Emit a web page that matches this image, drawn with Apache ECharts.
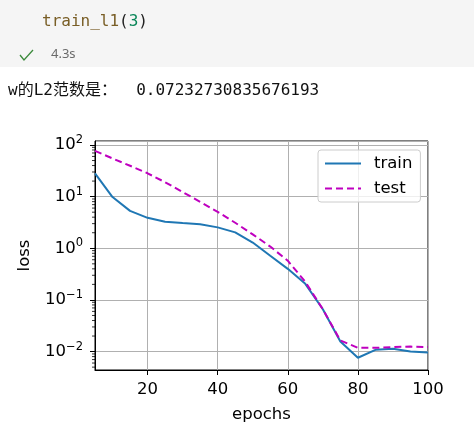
<!DOCTYPE html>
<html>
<head>
<meta charset="utf-8">
<script src="https://cdn.jsdelivr.net/npm/echarts@6/dist/echarts.min.js"></script>
<style>
html,body{margin:0;padding:0;background:#fff;}
#c{width:474px;height:428px;}
</style>
</head>
<body>
<div id="c"></div>
<script>
// ---- data ----
const epochs = [5,10,15,20,25,30,35,40,45,50,55,60,65,70,75,80,85,90,95,100];
const trainLoss = [28.3,9.8,5.3,3.89,3.26,3.07,2.93,2.54,2.03,1.29,0.715,0.40,0.205,0.066,0.0157,0.0076,0.0108,0.0113,0.0100,0.0096];
const testLoss = [76.8,54.8,39.6,28.3,19.0,12.3,7.9,5.07,3.12,1.86,1.08,0.574,0.224,0.066,0.0164,0.0118,0.0118,0.0122,0.0125,0.0122];
const minorTicks = [0.005,0.006,0.007,0.008,0.009,0.02,0.03,0.04,0.05,0.06,0.07,0.08,0.09,
  0.2,0.3,0.4,0.5,0.6,0.7,0.8,0.9,2,3,4,5,6,7,8,9,20,30,40,50,60,70,80,90];
const codeLine = 'train_l1';
const codeArg = '3';
const runTime = '4.3s';
const outputText = 'w的L2范数是：\u00a0\u00a00.07232730835676193';
const xTitle = 'epochs';
const yTitle = 'loss';
const seriesNames = ['train', 'test'];

const SUP = {'-':'\u2212'};
function supLabel(v){
  const e = Math.round(Math.log10(v));
  const s = String(e).split('').map(ch => SUP[ch] || ch).join('');
  return '{b|10}{s|' + s + '}';
}

const chart = echarts.init(document.getElementById('c'), null, {renderer:'canvas'});
const tickFont = 'DejaVu Sans';
const FS = 16.5;
chart.setOption({
  animation: false,
  backgroundColor: '#fff',
  graphic: [
    {type:'rect', shape:{x:0,y:0,width:474,height:67}, style:{fill:'#f5f5f5'}, z:-1},
    {type:'text', x:42, y:22, style:{
      text:'{f|' + codeLine + '}{p|(}{n|' + codeArg + '}{p|)}',
      verticalAlign:'middle',
      rich:{
        f:{fontFamily:'DejaVu Sans Mono', fontSize:16, fill:'#795e26'},
        p:{fontFamily:'DejaVu Sans Mono', fontSize:16, fill:'#222'},
        n:{fontFamily:'DejaVu Sans Mono', fontSize:16, fill:'#098658'}
      }
    }},
    {type:'polyline', shape:{points:[[20,55],[24,60],[33,50]]}, style:{stroke:'#3c8a3c', lineWidth:1.3, fill:null}},
    {type:'text', x:51, y:54, style:{text:runTime, font:'13px "Noto Sans"', fill:'#6a6a6a', verticalAlign:'middle'}},
    {type:'text', x:8, y:91, style:{text:outputText, font:'16px "DejaVu Sans Mono", "Noto Sans CJK SC"', fill:'#111', verticalAlign:'middle'}}
  ],
  grid: {left:95, right:46, top:141, bottom:56, show:true, borderColor:'#000', borderWidth:1, backgroundColor:'transparent'},
  legend: {
    data: seriesNames,
    orient:'vertical', left:318, top:150,
    padding:[5,8,5,6], itemGap:8,
    itemWidth:36, itemHeight:16,
    itemStyle:{opacity:0},
    backgroundColor:'rgba(255,255,255,0.8)', borderColor:'#cccccc', borderWidth:1, borderRadius:3,
    textStyle:{fontFamily:tickFont, fontSize:FS, color:'#000', padding:[0,0,0,8]}
  },
  xAxis: {
    type:'value', min:5, max:100,
    name:xTitle, nameLocation:'middle', nameGap:36,
    nameTextStyle:{fontFamily:tickFont, fontSize:FS, color:'#000'},
    axisLine:{show:true, lineStyle:{color:'#000', width:1}},
    axisTick:{show:true, length:5, inside:false, lineStyle:{color:'#000'}},
    axisLabel:{fontFamily:tickFont, fontSize:FS, color:'#000', margin:11, showMinLabel:false},
    splitLine:{show:true, lineStyle:{color:'#b0b0b0', width:1}}
  },
  yAxis: {
    type:'log', logBase:10, min:0.0044, max:119.4,
    name:yTitle, nameLocation:'middle', nameGap:62, nameRotate:90,
    nameTextStyle:{fontFamily:tickFont, fontSize:FS, color:'#000'},
    axisLine:{show:true, lineStyle:{color:'#000', width:1}},
    axisTick:{show:true, length:5, inside:false, lineStyle:{color:'#000'}},
    axisLabel:{
      margin:12, showMinLabel:false, showMaxLabel:false,
      formatter: v => supLabel(v),
      rich:{
        b:{fontFamily:tickFont, fontSize:FS, color:'#000'},
        s:{fontFamily:tickFont, fontSize:11.5, color:'#000', padding:[0,0,10,0]}
      }
    },
    splitLine:{show:true, lineStyle:{color:'#b0b0b0', width:1}}
  },
  series: [
    {name:seriesNames[0], type:'line', data: epochs.map((e,i)=>[e, trainLoss[i]]),
      symbol:'none', lineStyle:{color:'#1f77b4', width:2}, itemStyle:{color:'#1f77b4'}, z:3},
    {name:seriesNames[1], type:'line', data: epochs.map((e,i)=>[e, testLoss[i]]),
      symbol:'none', lineStyle:{color:'#bf00bf', width:2, type:[7,4]}, itemStyle:{color:'#bf00bf'}, z:4},
    {name:'minor', type:'custom', silent:true, clip:false,
      data: minorTicks.map(v => [5, v]),
      renderItem: (params, api) => {
        const p = api.coord([api.value(0), api.value(1)]);
        return {type:'line', shape:{x1:p[0]-3, y1:p[1], x2:p[0], y2:p[1]}, style:{stroke:'#000', lineWidth:0.8}};
      }, z:5}
  ]
});
</script>
</body>
</html>
